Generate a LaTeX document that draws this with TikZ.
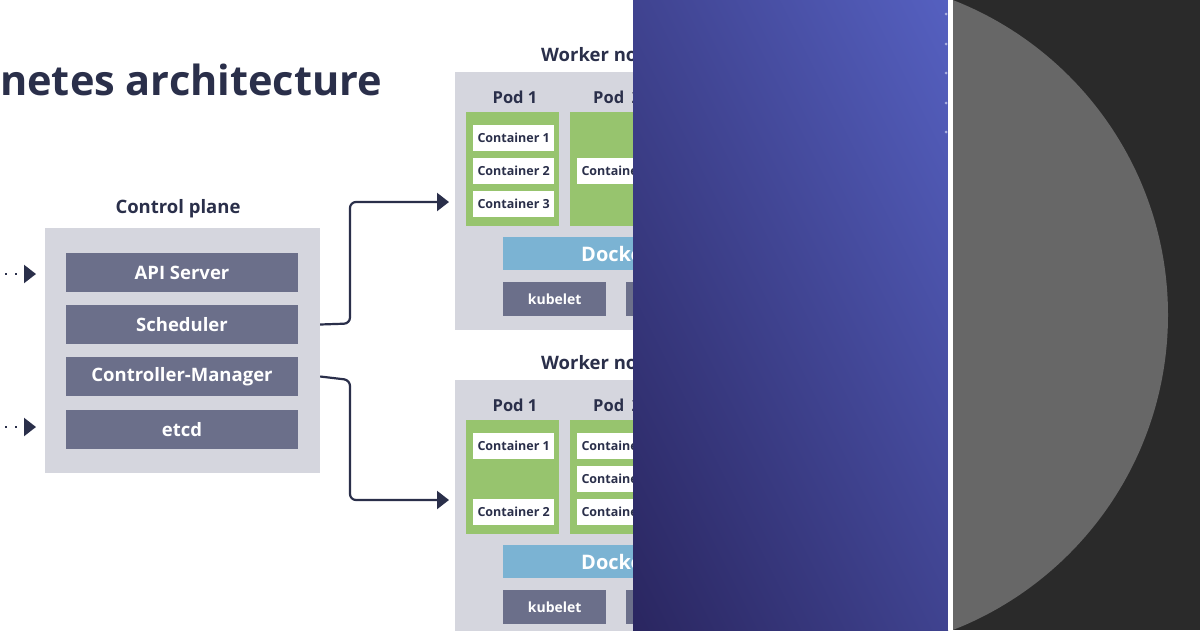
\documentclass[tikz,border=0pt]{standalone}
\usepackage{fontspec}
\setmainfont{Open Sans}
\usetikzlibrary{arrows.meta,shadings}
\definecolor{navy}{HTML}{2A2F4A}
\definecolor{panel}{HTML}{D5D6DE}
\definecolor{comp}{HTML}{6B6F8A}
\definecolor{pod}{HTML}{97C46E}
\definecolor{dock}{HTML}{7BB3D3}
\definecolor{pdark}{HTML}{2A2660}
\definecolor{plight}{HTML}{5560C0}
\definecolor{dbg}{HTML}{2A2A2A}
\definecolor{circ}{HTML}{676767}
\begin{document}
\begin{tikzpicture}[x=1pt,y=-1pt,
  lbl/.style={font=\bfseries\fontsize{18.5}{18.5}\selectfont,text=navy},
  comp/.style={fill=comp,text=white,font=\bfseries\fontsize{18.5}{19}\selectfont,inner sep=0},
  cont/.style={fill=white,text=navy,font=\bfseries\fontsize{12.5}{13}\selectfont,inner sep=0},
  conn/.style={navy,line width=2.2pt,rounded corners=6pt,-{Triangle[length=12pt,width=18pt]}},
  dot/.style={navy,line width=2.2pt,dash pattern=on 2.2pt off 7.8pt,-{Triangle[length=12pt,width=18pt]}}]
\useasboundingbox (0,0) rectangle (1200,630);
\fill[white] (0,0) rectangle (633,630);
\begin{scope}
\clip (0,0) rectangle (633,630);
\node[anchor=west,text=navy,font=\bfseries\fontsize{41.5}{41.5}\selectfont,inner sep=0] (title) at (0,80) {netes architecture};
% control plane
\node[lbl] (cpl) at (178,209) {Control plane};
\node[fill=panel,minimum width=275pt,minimum height=245pt,inner sep=0] (cp) at (182.5,350.5) {};
\node[comp,minimum width=232pt,minimum height=39pt] (api) at (182,272.5) {API Server};
\node[comp,minimum width=232pt,minimum height=39pt] (sch) at (182,324.5) {Scheduler};
\node[comp,minimum width=232pt,minimum height=39pt] (cm) at (182,376.5) {Controller-Manager};
\node[comp,minimum width=232pt,minimum height=39pt] (etcd) at (182,429.5) {etcd};
\coordinate (in1) at (5,274);
\coordinate (in2) at (5,427);
\draw[dot] (in1) -- (36,274);
\draw[dot] (in2) -- (36,427);
% workers
\foreach \n/\y in {1/0,2/308}{
  \begin{scope}[yshift=-\y pt]
  \node[lbl,anchor=west,inner sep=0] (wl\n) at (541,55) {Worker node};
  \node[fill=panel,minimum width=220pt,minimum height=258pt,inner sep=0,anchor=north west] (w\n) at (455,72) {};
  \node[lbl,font=\bfseries\fontsize{16.5}{16.5}\selectfont] (pa\n) at (515,97) {Pod 1};
  \node[lbl,font=\bfseries\fontsize{16.5}{16.5}\selectfont,anchor=west,inner sep=0] (pb\n) at (593,97) {Pod\hspace{3pt} 2};
  \node[fill=pod,minimum width=93pt,minimum height=114pt,inner sep=0,anchor=north west] (ga\n) at (466,112) {};
  \node[fill=pod,minimum width=93pt,minimum height=114pt,inner sep=0,anchor=north west] (gb\n) at (570,112) {};
  \node[fill=dock,text=white,font=\bfseries\fontsize{20}{20}\selectfont,minimum height=33pt,inner sep=0,anchor=north west,text width=200pt] (dk\n) at (503,237) {\hspace*{78pt}Docker};
  \node[comp,font=\bfseries\fontsize{14}{14}\selectfont,minimum width=103pt,minimum height=34pt,anchor=north west] (kl\n) at (503,282) {kubelet};
  \node[fill=comp,minimum width=60pt,minimum height=34pt,inner sep=0,anchor=north west] (kp\n) at (626,282) {};
  \end{scope}}
\foreach \i/\yy in {1/125,2/158,3/191}
  \node[cont,minimum width=81pt,minimum height=26pt,anchor=north west] (ca\i) at (473,\yy) {Container \i};
\node[cont,minimum width=81pt,minimum height=26pt,anchor=north west] (cb1) at (577,158) {Container 1};
\node[cont,minimum width=81pt,minimum height=26pt,anchor=north west] (da1) at (473,433) {Container 1};
\node[cont,minimum width=81pt,minimum height=26pt,anchor=north west] (da2) at (473,499) {Container 2};
\foreach \i/\yy in {1/433,2/466,3/499}
  \node[cont,minimum width=81pt,minimum height=26pt,anchor=north west] (db\i) at (577,\yy) {Container \i};
\coordinate (t1) at (449,202);
\coordinate (t2) at (449,500);
\draw[conn] (sch.east -| cp.east) -- (350,323.5) -- (350,202) -- (t1);
\draw[conn] (cm.east -| cp.east) -- (350,380) -- (350,500) -- (t2);
\end{scope}
% purple panel
\shade[lower left=pdark,upper right=plight,lower right=pdark!50!plight,upper left=pdark!50!plight] (633,0) rectangle (948,630);
\foreach \yy in {14,44,73,103,132} \fill[plight!50!white] (946,\yy) circle (1.5pt);
\fill[white] (948,0) rectangle (953,630);
\fill[dbg] (953,0) rectangle (1200,630);
\begin{scope}
\clip (953,0) rectangle (1200,630);
\fill[circ] (830,315) circle (338pt);
\end{scope}
\end{tikzpicture}
\end{document}
